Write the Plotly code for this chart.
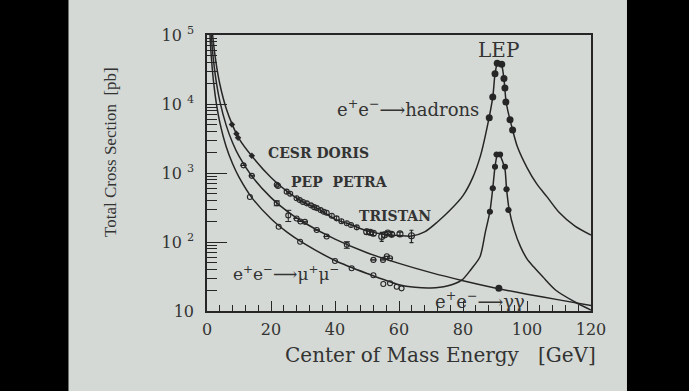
import plotly.graph_objects as go

# ---------------- data ----------------
# model curves (E in GeV, sigma in pb)
had_curve_E = [1.6, 2, 3, 4, 6, 8, 10, 14, 20, 25, 30, 35, 40, 45, 50, 55, 60, 64, 68, 72, 76, 80, 83,
               85.5, 87.5, 89.3, 90.0, 90.7, 91.4, 92.1, 92.8, 93.4, 94.0, 94.7, 95.5, 97, 100, 103,
               106.2, 110, 115, 120]
had_curve_S = [120000, 78000, 35000, 19500, 8600, 4900, 3150, 1760, 860, 540, 380, 295, 215, 178, 145,
               130, 124, 122, 140, 195, 290, 470, 850, 1800, 4500, 12600, 27000, 38000, 39500, 36000,
               23000, 11500, 8000, 5900, 4200, 2400, 1200, 700, 455, 270, 170, 126]

mumu_curve_E = [0.9, 1.2, 2, 3, 4, 6, 8, 10, 14, 20, 25, 30, 40, 50, 60, 65, 70, 75, 79.6, 82.5, 85.3,
                87, 88.4, 89.3, 90.0, 90.6, 91.1, 91.6, 92.3, 93.1, 93.6, 94.4, 96, 98, 100, 102, 105,
                109, 115, 120]
mumu_curve_S = [110000, 60000, 22000, 9600, 5400, 2400, 1360, 870, 440, 217, 139, 97, 54, 35, 24, 22,
                21.5, 23, 28, 40, 61, 140, 275, 600, 1230, 1750, 1900, 1800, 1500, 1150, 600, 300,
                150, 85, 57, 44, 31, 20, 13.5, 10.3]

gg_curve_E = [1.2, 1.5, 2, 3, 4, 6, 8, 10, 14, 20, 25, 30, 40, 50, 60, 70, 80, 90, 100, 110, 120]
gg_curve_S = [120000, 78000, 44000, 19500, 11000, 4900, 2750, 1750, 900, 440, 280, 195, 110, 70, 49,
              36, 27.5, 21.6, 17.5, 14.5, 12]

# measurements
had_low_E = [7.8, 9.2, 9.7, 14.0]
had_low_S = [5040, 3720, 3240, 1780]

had_pp_E = [21.8, 22.2, 24.9, 26.0, 28.0, 29.0, 30.0, 31.2, 32.5, 33.5, 34.3, 35.5, 36.5, 37.4, 39.0,
            40.5, 42.0, 43.7, 45.0, 46.8]
had_pp_S = [675, 650, 537, 500, 430, 405, 380, 363, 340, 320, 310, 290, 275, 265, 240, 220, 200, 187,
            176, 163]

had_tr_E = [49.9, 51.0, 52.0, 54.6, 55.5, 56.5, 57.7, 60.3, 63.9]
had_tr_S = [141, 138, 134, 120, 127, 135, 129, 131, 123]
had_tr_err = [12, 10, 10, 18, 10, 8, 8, 8, 25]

had_lep_E = [88.2, 89.3, 90.0, 90.7, 92.1, 92.8, 93.1, 93.4, 94.7, 95.5]
had_lep_S = [6300, 12600, 27500, 39000, 37600, 23400, 17000, 10700, 5900, 4200]

gg_E = [11.4, 14.0, 21.8, 25.4, 28.0, 29.2, 30.6, 34.3, 37.4, 43.7, 52.0, 55.0, 56.2, 57.2]
gg_S = [1290, 910, 365, 243, 219, 198, 196, 149, 120, 91, 55, 55, 62, 58]
gg_err = [0, 0, 30, 45, 0, 0, 0, 0, 0, 10, 0, 0, 0, 0]

gg_lep_E = [91.2]
gg_lep_S = [21.4]

mumu_E = [13.4, 22.4, 29.1, 40.0, 45.2, 52.0, 55.1, 57.2, 59.3, 60.8]
mumu_S = [450, 166, 101, 53, 41.6, 33, 24.6, 25.2, 22.5, 21.3]

mumu_lep_E = [88.4, 89.3, 90.0, 90.5, 91.6, 93.1, 93.6, 94.2]
mumu_lep_S = [275, 600, 1230, 1860, 1860, 1230, 580, 290]

y_tick_vals = [10, 100, 1000, 10000, 100000]
y_tick_text = ["10", "10 <sup>2</sup>", "10 <sup>3</sup>", "10 <sup>4</sup>", "10 <sup>5</sup>"]
x_tick_vals = [0, 20, 40, 60, 80, 100, 120]
x_tick_text = ["0", "20", "40", "60", "80", "100", "120"]

# ---------------- styling ----------------
PAGE = "#d4d9d5"
INK = "#262626"
TXT = "#333333"
SERIF = "DejaVu Serif"

fig = go.Figure()

for xs, ys in [(had_curve_E, had_curve_S), (mumu_curve_E, mumu_curve_S), (gg_curve_E, gg_curve_S)]:
    fig.add_trace(go.Scatter(x=xs, y=ys, mode="lines",
                             line=dict(color=INK, width=1.5, shape="spline", smoothing=0.8),
                             hoverinfo="skip", showlegend=False))

fig.add_trace(go.Scatter(x=had_low_E, y=had_low_S, mode="markers",
                         marker=dict(symbol="diamond", size=5, color=INK), showlegend=False))
fig.add_trace(go.Scatter(x=had_pp_E, y=had_pp_S, mode="markers",
                         marker=dict(symbol="circle-open", size=5, color=INK, line=dict(width=1.1)),
                         error_y=dict(type="percent", value=8, color=INK, thickness=1, width=0),
                         showlegend=False))
fig.add_trace(go.Scatter(x=had_tr_E, y=had_tr_S, mode="markers",
                         marker=dict(symbol="circle-open", size=6, color=INK, line=dict(width=1.1)),
                         error_y=dict(type="data", array=had_tr_err, color=INK, thickness=1.2, width=2),
                         showlegend=False))
fig.add_trace(go.Scatter(x=had_lep_E, y=had_lep_S, mode="markers",
                         marker=dict(symbol="circle", size=7, color=INK),
                         showlegend=False))
fig.add_trace(go.Scatter(x=gg_E, y=gg_S, mode="markers",
                         marker=dict(symbol="circle-open", size=5, color=INK, line=dict(width=1.1)),
                         error_y=dict(type="data", array=gg_err, color=INK, thickness=1, width=3),
                         showlegend=False))
fig.add_trace(go.Scatter(x=gg_lep_E, y=gg_lep_S, mode="markers",
                         marker=dict(symbol="circle", size=7, color=INK), showlegend=False))
fig.add_trace(go.Scatter(x=mumu_E, y=mumu_S, mode="markers",
                         marker=dict(symbol="circle-open", size=5, color=INK, line=dict(width=1.1)),
                         showlegend=False))
fig.add_trace(go.Scatter(x=mumu_lep_E, y=mumu_lep_S, mode="markers",
                         marker=dict(symbol="circle", size=6, color=INK),
                         error_x=dict(type="constant", value=0.9, color=INK, thickness=2, width=0),
                         showlegend=False))

lab_font = dict(family=SERIF, size=14, color=TXT)
annots = [
    dict(text="LEP", x=91.2, y=4.78, xanchor="center", font=dict(family=SERIF, size=20, color=TXT)),
    dict(text="e<sup>+</sup>e<sup>−</sup>⟶hadrons", x=85.6, y=3.94, xanchor="right",
         font=dict(family=SERIF, size=18, color=TXT)),
    dict(text="<b>CESR DORIS</b>", x=18.5, y=3.29, xanchor="left", font=lab_font),
    dict(text="<b>PEP  PETRA</b>", x=25.6, y=2.874, xanchor="left", font=lab_font),
    dict(text="<b>TRISTAN</b>", x=46.8, y=2.377, xanchor="left", font=lab_font),
    dict(text="e<sup>+</sup>e<sup>−</sup>⟶μ<sup>+</sup>μ<sup>−</sup>", x=7.4, y=1.55, xanchor="left",
         font=dict(family=SERIF, size=17, color=TXT)),
    dict(text="e<sup>+</sup>e<sup>−</sup>⟶γγ", x=70.6, y=1.16, xanchor="left",
         font=dict(family=SERIF, size=18, color=TXT)),
]
for a in annots:
    fig.add_annotation(xref="x", yref="y", showarrow=False, yanchor="middle", **a)

fig.add_annotation(text="Center of Mass Energy   [GeV]", xref="paper", yref="paper",
                   x=0.609, y=-0.159, showarrow=False, xanchor="center", yanchor="middle",
                   font=dict(family=SERIF, size=20, color=TXT))
fig.add_annotation(text="Total Cross Section  [pb]", xref="paper", yref="paper",
                   x=-0.2526, y=0.576, showarrow=False, textangle=-90, xanchor="center", yanchor="middle",
                   font=dict(family="Liberation Serif", size=17, color=TXT))

# black borders of the photographed slide
fig.add_shape(type="rect", xref="paper", yref="paper", x0=-0.6, x1=-0.3607, y0=-0.4, y1=1.2,
              fillcolor="black", line=dict(width=0), layer="above")
fig.add_shape(type="rect", xref="paper", yref="paper", x0=1.0937, x1=1.4, y0=-0.4, y1=1.2,
              fillcolor="black", line=dict(width=0), layer="above")

minor_y = [k * 10 ** d for d in range(1, 5) for k in range(2, 10)]

fig.update_layout(
    width=689, height=391,
    margin=dict(l=207, r=98, t=35, b=80),
    paper_bgcolor=PAGE, plot_bgcolor=PAGE,
    showlegend=False,
    xaxis=dict(range=[0, 120], tickvals=x_tick_vals, ticktext=x_tick_text,
               ticks="inside", ticklen=10, tickwidth=1.3, tickcolor=INK,
               minor=dict(dtick=4, ticks="inside", ticklen=6, tickwidth=1.2, tickcolor=INK),
               showline=True, linecolor=INK, linewidth=1.5, mirror=True,
               showgrid=False, zeroline=False, ticklabelstandoff=3,
               tickfont=dict(family=SERIF, size=16, color=TXT)),
    yaxis=dict(type="log", range=[1, 5], tickvals=y_tick_vals, ticktext=y_tick_text,
               ticks="inside", ticklen=20, tickwidth=1.3, tickcolor=INK,
               minor=dict(tickvals=minor_y, ticks="inside", ticklen=10, tickwidth=1.2, tickcolor=INK),
               showline=True, linecolor=INK, linewidth=1.5, mirror=True,
               showgrid=False, zeroline=False, ticklabelstandoff=8,
               tickfont=dict(family=SERIF, size=16, color=TXT)),
)

fig.write_html(
    "out.html",
    config={"displayModeBar": False},
    post_script=("document.body.style.margin='0';document.body.style.padding='0';"
                 "document.body.style.overflow='hidden';"
                 "document.documentElement.style.background='#d4d9d5';"),
)
